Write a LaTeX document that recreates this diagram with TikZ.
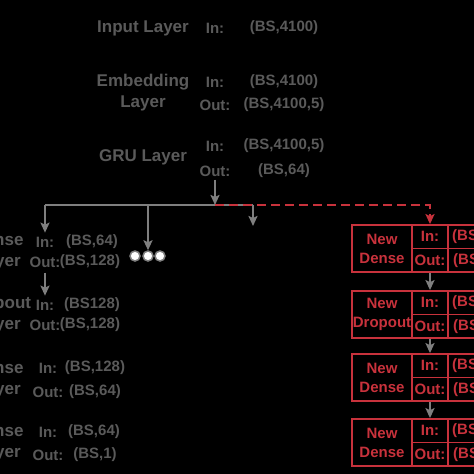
\documentclass[tikz,border=0pt]{standalone}
\usepackage{fontspec}
\setmainfont{Liberation Sans}
\usetikzlibrary{arrows.meta,positioning}
\definecolor{labelgray}{HTML}{5A5A5A}
\definecolor{arrowgray}{HTML}{7F7F7F}
\definecolor{newred}{HTML}{C8323C}
\tikzset{
    name text/.style={font=\bfseries\fontsize{17}{21}\selectfont,text=labelgray,align=center,inner sep=1pt},
    shape text/.style={font=\bfseries\fontsize{15}{19}\selectfont,text=labelgray,inner sep=1pt},
    arr/.style={-{Stealth[length=10pt,width=9pt,inset=2pt]},line width=2.4pt,arrowgray},
    new arr/.style={arr,newred,dash pattern=on 9pt off 5pt},
    new cell/.style={draw=newred,line width=1.8pt,inner sep=0pt,font=\bfseries\fontsize{15}{19}\selectfont,text=newred,align=center},
    new shape/.style={font=\bfseries\fontsize{15}{19}\selectfont,text=newred,inner sep=0pt,anchor=west},
    dot/.style={circle,fill=white,draw=arrowgray,line width=1.5pt,minimum size=10pt,inner sep=0pt},
}

\begin{document}
\begin{tikzpicture}[x=1pt,y=-1pt]
    \useasboundingbox (0,0) rectangle (474,474);
    \fill[black] (0,0) rectangle (474,474);
    \clip (0,0) rectangle (474,474);

    % top layers
    \node[name text] (inp) at (143,28) {Input Layer};
    \node[shape text] (inpin) at (215,28) {In:};
    \node[shape text] (inpinsh) at (284,28) {(BS,4100)};

    \node[name text] (emb) at (143,93) {Embedding\\Layer};
    \node[shape text] (embin) at (215,82) {In:};
    \node[shape text] (embinsh) at (284,82) {(BS,4100)};
    \node[shape text] (embout) at (215,105) {Out:};
    \node[shape text] (emboutsh) at (284,105) {(BS,4100,5)};

    \node[name text] (gru) at (143,157) {GRU Layer};
    \node[shape text] (gruin) at (215,146) {In:};
    \node[shape text] (gruinsh) at (284,146) {(BS,4100,5)};
    \node[shape text] (gruout) at (215,171) {Out:};
    \node[shape text] (gruoutsh) at (284,171) {(BS,64)};

    % old head
    \node[name text] (d1) at (-2,252) {Dense\\Layer};
    \node[shape text] (d1in) at (45,242) {In:};
    \node[shape text] (d1insh) at (92,242) {(BS,64)};
    \node[shape text] (d1out) at (45,262) {Out:};
    \node[shape text] (d1outsh) at (90,262) {(BS,128)};

    \node[name text] (do1) at (-2,315) {Dropout\\Layer};
    \node[shape text] (do1in) at (45,305) {In:};
    \node[shape text] (do1insh) at (92,305) {(BS128)};
    \node[shape text] (do1out) at (45,325) {Out:};
    \node[shape text] (do1outsh) at (90,325) {(BS,128)};

    \node[name text] (d2) at (-2,380) {Dense\\Layer};
    \node[shape text] (d2in) at (48,368) {In:};
    \node[shape text] (d2insh) at (95,368) {(BS,128)};
    \node[shape text] (d2out) at (48,392) {Out:};
    \node[shape text] (d2outsh) at (95,392) {(BS,64)};

    \node[name text] (d3) at (-2,443) {Dense\\Layer};
    \node[shape text] (d3in) at (48,432) {In:};
    \node[shape text] (d3insh) at (94,432) {(BS,64)};
    \node[shape text] (d3out) at (48,455) {Out:};
    \node[shape text] (d3outsh) at (95,455) {(BS,1)};

    \foreach \i/\x in {1/135,2/148,3/160}
        \node[dot] (dot\i) at (\x,256) {};

    % new head
    \foreach \i/\t/\lab/\insh/\outsh in {1/225/{New\\Dense}/{(BS,64)}/{(BS,128)},
                                          2/291/{New\\Dropout}/{(BS,128)}/{(BS,128)},
                                          3/354/{New\\Dense}/{(BS,128)}/{(BS,64)},
                                          4/419/{New\\Dense}/{(BS,64)}/{(BS,1)}} {
        \node[new cell,minimum width=60pt,minimum height=47pt] (nb\i) at (382,\t+23.5) {\lab};
        \node[new cell,minimum width=36pt,minimum height=23.5pt] (nbin\i) at (430,\t+11.75) {In:};
        \node[new cell,minimum width=36pt,minimum height=23.5pt] (nbout\i) at (430,\t+35.25) {Out:};
        \node[new cell,minimum width=72pt,minimum height=23.5pt] (nbinsh\i) at (484,\t+11.75) {};
        \node[new cell,minimum width=72pt,minimum height=23.5pt] (nboutsh\i) at (484,\t+35.25) {};
        \node[new shape] at (452,\t+11.75) {\insh};
        \node[new shape] at (453,\t+35.25) {\outsh};
    };

    % connectors
    \coordinate (split) at (215,205);
    \coordinate (lft) at (45,205);
    \coordinate (mid) at (148,205);
    \coordinate (rgt) at (253,205);
    \coordinate (rgtend) at (253,226);
    \coordinate (rc) at (430,205);

    \draw[arr,shorten <=2pt] (gruout.south) -- (split);
    \draw[line width=2.4pt,arrowgray] (lft) -- (rgt);
    \draw[arr,shorten >=3pt] (lft) -- (d1in.north);
    \draw[arr] (mid) -- (dot2.north);
    \draw[arr] (rgt) -- (rgtend);
    \draw[new arr] (split) -- (rc) -- (nbin1.north);
    \draw[arr,shorten <=4pt,shorten >=3pt] (d1out.south) -- (do1in.north);
    \foreach \i/\j in {1/2,2/3,3/4}
        \draw[arr] (nbout\i.south) -- (nbin\j.north);
\end{tikzpicture}
\end{document}
